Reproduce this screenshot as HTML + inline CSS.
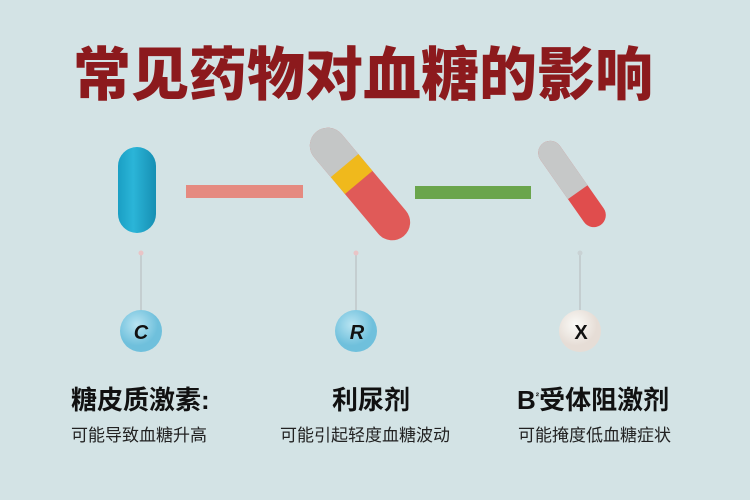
<!DOCTYPE html>
<html><head><meta charset="utf-8"><style>
body{margin:0;width:750px;height:500px;background:#d3e3e5;overflow:hidden;position:relative;font-family:"Liberation Sans","Noto Sans CJK SC",sans-serif}
.t{position:absolute;white-space:nowrap}
</style></head><body>
<div class="t" style="left:73px;top:28px;font-size:58px;font-weight:900;color:#8c1a1d;letter-spacing:0px">常见药物对血糖的影响</div>
<svg width="750" height="500" style="position:absolute;left:0;top:0">
<defs>
<linearGradient id="b" x1="0" x2="1"><stop offset="0" stop-color="#1a9fc4"/><stop offset=".4" stop-color="#2bb5d8"/><stop offset="1" stop-color="#168fb3"/></linearGradient>
<radialGradient id="cb" cx=".4" cy=".35"><stop offset="0" stop-color="#b8e4f2"/><stop offset="1" stop-color="#6fc0dc"/></radialGradient>
<radialGradient id="cw" cx=".4" cy=".35"><stop offset="0" stop-color="#fbfbf8"/><stop offset="1" stop-color="#e6ddd6"/></radialGradient>
</defs>
<rect x="118" y="147" width="38" height="86" rx="19" fill="url(#b)"/>
<rect x="186" y="185" width="117" height="13" fill="#e58a80"/>
<rect x="415" y="186" width="116" height="13" fill="#6aa54c"/>
<g transform="translate(360,184) rotate(50)">
<rect x="-68" y="-18" width="136" height="36" rx="18" fill="#e05a58"/>
<path d="M-50,-18 H-5 V18 H-50 A18,18 0 0 1 -50,-18Z" fill="#c4c6c6"/>
<rect x="-24" y="-18" width="22" height="36" fill="#f0b91c"/>
</g>
<g transform="translate(572,184) rotate(55)">
<rect x="-50" y="-12" width="100" height="24" rx="12" fill="#e04d4d"/>
<path d="M-38,-12 H10 V12 H-38 A12,12 0 0 1 -38,-12Z" fill="#c6c8c8"/>
</g>
<g stroke="#bfc6c8" stroke-width="1.5">
<line x1="141" y1="254" x2="141" y2="312"/><line x1="356" y1="254" x2="356" y2="312"/><line x1="580" y1="254" x2="580" y2="312"/>
</g>
<circle cx="141" cy="253" r="2.5" fill="#e9c4c6"/><circle cx="356" cy="253" r="2.5" fill="#e9c4c6"/><circle cx="580" cy="253" r="2.5" fill="#c9d2d4"/>
<circle cx="141" cy="331" r="21" fill="url(#cb)"/>
<circle cx="356" cy="331" r="21" fill="url(#cb)"/>
<circle cx="580" cy="331" r="21" fill="url(#cw)"/>
<g font-family="Liberation Sans,sans-serif" font-weight="bold" font-style="italic" font-size="20" text-anchor="middle" fill="#111">
<text x="141" y="339">C</text><text x="357" y="339">R</text><text x="581" y="339" font-style="normal">X</text>
</g>
</svg>
<div class="t" style="left:71px;top:380px;font-size:26px;font-weight:bold;color:#111">糖皮质激素:</div>
<div class="t" style="left:71px;top:421px;font-size:17px;color:#222">可能导致血糖升高</div>
<div class="t" style="left:272px;top:380px;width:198px;text-align:center;font-size:26px;font-weight:bold;color:#111">利尿剂</div>
<div class="t" style="left:280px;top:421px;font-size:17px;color:#222">可能引起轻度血糖波动</div>
<div class="t" style="left:517px;top:380px;font-size:26px;font-weight:bold;color:#111">B<sup style="font-size:10px">²</sup>受体阻激剂</div>
<div class="t" style="left:518px;top:421px;font-size:17px;color:#222">可能掩度低血糖症状</div>
</body></html>
